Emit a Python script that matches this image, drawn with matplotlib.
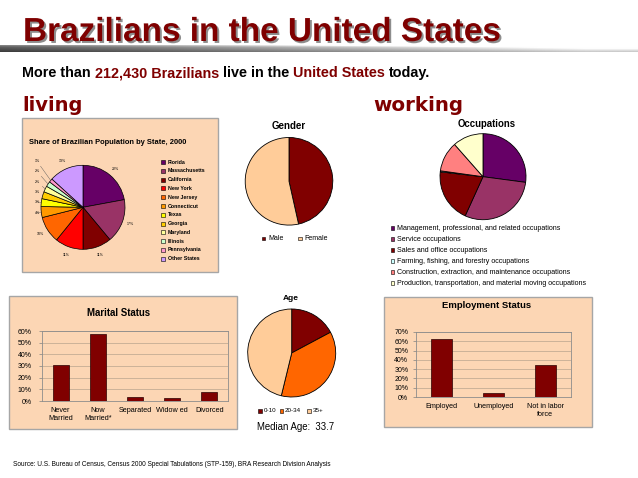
import matplotlib
matplotlib.use('Agg')
import matplotlib.pyplot as plt
import matplotlib.patheffects as pe
from matplotlib.patches import Rectangle
import numpy as np

# ---------------- data ----------------
title_text = "Brazilians in the United States"
subtitle_parts = [("More than", "k"), ("212,430 Brazilians", "r"), ("live in the", "k"),
                  ("United States", "r"), ("today.", "k")]

states = ["Florida", "Massachusetts", "California", "New York", "New Jersey", "Connecticut",
          "Texas", "Georgia", "Maryland", "Illinois", "Pennsylvania", "Other States"]
state_share = [22.0, 16.8, 11.0, 10.8, 10.2, 4.2, 3.0, 2.7, 2.3, 2.0, 1.4, 13.2]
state_colors = ["#660066", "#993366", "#800000", "#FF0000", "#FF6600", "#FF9900",
                "#FFFF00", "#FFCC00", "#FFFF99", "#CCFFCC", "#FF99CC", "#CC99FF"]

gender_labels = ["Male", "Female"]
gender_share = [46.5, 53.5]
gender_colors = ["#800000", "#FFCC99"]

occupations = ["Management, professional, and related occupations",
               "Service occupations",
               "Sales and office occupations",
               "Farming, fishing, and forestry occupations",
               "Construction, extraction, and maintenance occupations",
               "Production, transportation, and material moving occupations"]
occupation_share = [27.1, 29.7, 20.0, 0.4, 11.3, 11.5]
occupation_colors = ["#660066", "#993366", "#800000", "#CCFFFF", "#FF8080", "#FFFFCC"]

age_groups = ["0-10", "20-34", "35+"]
age_share = [17.2, 36.6, 46.2]
age_colors = ["#800000", "#FF6600", "#FFCC99"]
median_age = 33.7

marital_status = ["Never\nMarried", "Now\nMarried*", "Separated", "Widow ed", "Divorced"]
marital_pct = [30.6, 57.2, 3.4, 2.3, 7.4]

employment_status = ["Employed", "Unemployed", "Not in labor\nforce"]
employment_pct = [62.5, 4.0, 34.5]

source_text = ("Source: U.S. Bureau of Census, Census 2000 Special Tabulations (STP-159), "
               "BRA Research Division Analysis")

# ---------------- style ----------------
DARKRED = "#7F0000"
PEACH = "#FCD6B4"
BOXEDGE = "#A6A6A6"
BAR = "#800000"

plt.rcParams['font.family'] = ['Liberation Sans', 'DejaVu Sans']

W, H = 638, 478
fig = plt.figure(figsize=(W / 100, H / 100), dpi=100)
fig.patch.set_facecolor('white')
renderer = fig.canvas.get_renderer()


def fx(x):
    return x / W


def fy(y):
    return 1 - y / H


def box(x0, y0, x1, y1):
    return [fx(x0), fy(y1), (x1 - x0) / W, (y1 - y0) / H]


def add_rect(x0, y0, x1, y1, fc, ec, lw, z=-1):
    r = Rectangle((fx(x0), fy(y1)), (x1 - x0) / W, (y1 - y0) / H, transform=fig.transFigure,
                  facecolor=fc, edgecolor=ec, linewidth=lw, zorder=z)
    fig.add_artist(r)


def swatch(cx, cy, color, size=4.0):
    add_rect(cx - size / 2, cy - size / 2, cx + size / 2, cy + size / 2, color, 'black', 0.4, z=5)


# ---------------- header ----------------
fig.text(fx(23), fy(41), title_text, fontsize=24.0, fontweight='bold', color=DARKRED,
         va='baseline', ha='left',
         path_effects=[pe.SimplePatchShadow(offset=(1.4, -1.4), shadow_rgbFace='#303030', alpha=0.55),
                       pe.Normal()])

# gradient rule under title
gax = fig.add_axes(box(0, 45, W, 52))
gx = np.linspace(0, 1, 400)
horiz = np.clip(0.30 + 0.70 * (gx / 0.92) ** 1.1, 0, 1)
vert = np.array([1.25, 1.1, 1.0, 0.95, 0.9, 0.85, 0.8])
img = np.clip(horiz[None, :] * vert[:, None] + (vert[:, None] - 0.8) * 0.3, 0, 1)
gax.imshow(img, cmap='gray', vmin=0, vmax=1, aspect='auto', interpolation='bilinear')
gax.axis('off')

# subtitle with coloured words
sub_fs = 10.4
probe1 = fig.text(0, 0, "a a", fontsize=sub_fs, fontweight='bold')
probe2 = fig.text(0, 0, "aa", fontsize=sub_fs, fontweight='bold')
space_w = probe1.get_window_extent(renderer).width - probe2.get_window_extent(renderer).width
probe1.remove()
probe2.remove()
xpos = 22
for txt, col in subtitle_parts:
    t = fig.text(fx(xpos), fy(77), txt, fontsize=sub_fs, fontweight='bold',
                 color=(DARKRED if col == "r" else "black"), va='baseline', ha='left')
    xpos = t.get_window_extent(renderer).x1 + space_w

fig.text(fx(22), fy(111), "living", fontsize=14.0, fontweight='bold', color=DARKRED,
         family=['DejaVu Sans'], va='baseline', ha='left')
fig.text(fx(373), fy(111), "working", fontsize=14.3, fontweight='bold', color=DARKRED,
         family=['DejaVu Sans'], va='baseline', ha='left')


# ---------------- pie helper ----------------
def pie_axes(cx, cy, r, half):
    ax = fig.add_axes(box(cx - half, cy - half, cx + half, cy + half))
    return ax, half / r


def draw_pie(cx, cy, r, vals, colors, lw=0.6):
    half = r + 30
    ax, lim = pie_axes(cx, cy, r, half)
    wedges, _ = ax.pie(vals, colors=colors, startangle=90, counterclock=False, radius=1,
                       wedgeprops=dict(edgecolor='black', linewidth=lw))
    ax.set_xlim(-lim, lim)
    ax.set_ylim(-lim, lim)
    ax.set_aspect('equal')
    ax.axis('off')
    return ax, wedges


# ---------------- panel 1 : state shares ----------------
add_rect(22, 118, 218, 272, PEACH, BOXEDGE, 1.0)
fig.text(fx(29), fy(142), "Share of Brazilian Population by State, 2000", fontsize=5.4,
         fontweight='bold', va='center', ha='left')
sax, swedges = draw_pie(83, 207.3, 42, state_share, state_colors, lw=0.5)
tot = sum(state_share)
prev_y = None
for i, (w, v) in enumerate(zip(swedges, state_share)):
    ang = np.deg2rad((w.theta1 + w.theta2) / 2)
    lab = f"{round(v / tot * 100):.0f}%"
    if 5 <= i <= 10:
        ny = 1.18 * np.sin(ang)
        ly = ny if prev_y is None else max(ny, prev_y + 0.24)
        prev_y = ly
        lx = -1.03
        sax.annotate(lab, xy=(np.cos(ang), np.sin(ang)), xytext=(lx, ly), fontsize=2.6,
                     ha='right', va='center',
                     arrowprops=dict(arrowstyle='-', color='#555555', lw=0.3, shrinkA=0, shrinkB=0))
    else:
        sax.text(1.2 * np.cos(ang), 1.2 * np.sin(ang), lab, fontsize=2.6, ha='center', va='center')

for i, (name, col) in enumerate(zip(states, state_colors)):
    yy = 162 + i * 8.8
    swatch(163, yy, col, 4.0)
    fig.text(fx(167.5), fy(yy), name, fontsize=3.8, fontweight='bold', va='center', ha='left')

# ---------------- gender ----------------
fig.text(fx(289), fy(126), "Gender", fontsize=7.0, fontweight='bold', va='center', ha='center')
draw_pie(289, 181.3, 43.8, gender_share, gender_colors)
for cxs, tx, lab, col in zip([263.5, 300.2], [268.5, 304.5], gender_labels, gender_colors):
    swatch(cxs, 238.5, col, 3.6)
    fig.text(fx(tx), fy(238.5), lab, fontsize=5.0, va='center', ha='left')

# ---------------- occupations ----------------
fig.text(fx(487), fy(124), "Occupations", fontsize=6.9, fontweight='bold', va='center', ha='center')
draw_pie(483, 176.7, 43, occupation_share, occupation_colors)
for i, (name, col) in enumerate(zip(occupations, occupation_colors)):
    yy = 228.3 + i * 11
    swatch(392.5, yy, col, 3.8)
    fig.text(fx(397.5), fy(yy), name, fontsize=5.15, va='center', ha='left')

# ---------------- age ----------------
fig.text(fx(291), fy(298.5), "Age", fontsize=6.0, fontweight='bold', va='center', ha='center')
draw_pie(291.7, 353, 44, age_share, age_colors)
for cxs, tx, lab, col in zip([260, 281.7, 309], [263.5, 285, 312.3], age_groups, age_colors):
    swatch(cxs, 411, col, 3.4)
    fig.text(fx(tx), fy(411), lab, fontsize=4.5, va='center', ha='left')
fig.text(fx(257), fy(427), f"Median Age:  {median_age}", fontsize=6.9, va='center', ha='left')


# ---------------- bar panels ----------------
def bar_panel(ax_px, cats, vals, ymax, width, ypad):
    ax = fig.add_axes(box(*ax_px))
    ax.set_facecolor(PEACH)
    x = np.arange(len(cats))
    ax.bar(x, vals, width=width, color=BAR, edgecolor='#2A0000', linewidth=0.5, zorder=3)
    ax.set_xlim(-0.5, len(cats) - 0.5)
    ax.set_ylim(0, ymax)
    ticks = np.arange(0, ymax + 1, 10)
    ax.set_yticks(ticks)
    ax.set_yticklabels([f"{t}%" for t in ticks], fontsize=5.0)
    ax.set_xticks(x)
    ax.set_xticklabels(cats, fontsize=5.2, linespacing=1.25)
    ax.tick_params(axis='x', length=0, pad=4.5)
    ax.tick_params(axis='y', length=2, width=0.5, color='#808080', pad=ypad)
    ax.grid(axis='y', color='#B9A48E', linewidth=0.5)
    ax.set_axisbelow(True)
    for s in ax.spines.values():
        s.set_color('#8C8C8C')
        s.set_linewidth(0.6)
    return ax


add_rect(9, 296, 237, 429, PEACH, BOXEDGE, 1.0)
fig.text(fx(119), fy(313), "Marital Status", fontsize=6.9, fontweight='bold', va='center', ha='center')
bar_panel((42, 331, 228, 401), marital_status, marital_pct, 60, 0.43, 5.5)

add_rect(384, 297, 592, 427, PEACH, BOXEDGE, 1.0)
fig.text(fx(487), fy(306), "Employment Status", fontsize=6.8, fontweight='bold', va='center', ha='center')
bar_panel((416, 332, 571, 397), employment_status, employment_pct, 70, 0.41, 3.5)

# ---------------- source ----------------
fig.text(fx(12.5), fy(465), source_text, fontsize=4.7, va='center', ha='left')

fig.savefig("out.png", dpi=100, facecolor='white')
